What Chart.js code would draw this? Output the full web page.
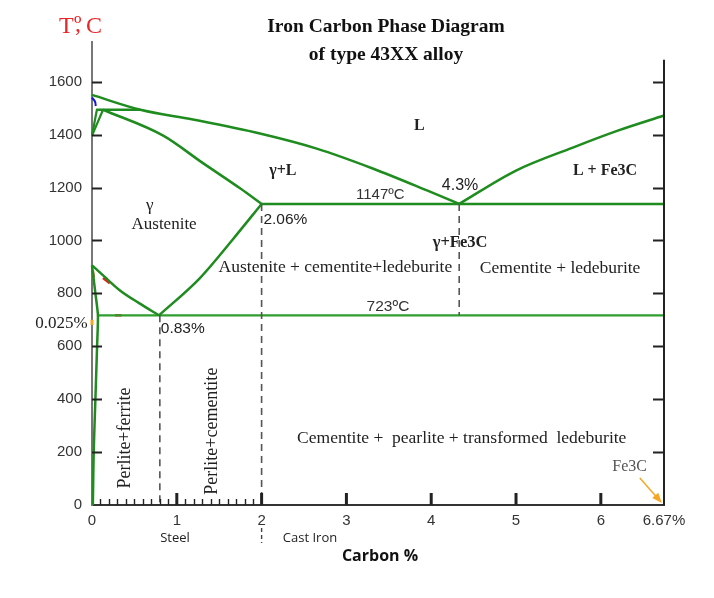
<!DOCTYPE html>
<html>
<head>
<meta charset="utf-8">
<script src="https://cdn.jsdelivr.net/npm/chart.js@4.4.1/dist/chart.umd.min.js"></script>
<style>
  html, body { margin: 0; padding: 0; background: #fff; }
</style>
</head>
<body>
<canvas id="myChart" width="714" height="598"></canvas>
<script>
// ejes
const xMax = 6.745; // borde derecho (marcado 6.67%)
const yMax = 1750;
const xTickVals = [0, 1, 2, 3, 4, 5, 6, 6.745];
const xTickLabels = ["0", "1", "2", "3", "4", "5", "6", "6.67%"];
const xMinorTicks = [0.1, 0.2, 0.3, 0.4, 0.5, 0.6, 0.7, 0.8, 0.9, 1.1, 1.2, 1.3, 1.4, 1.5, 1.6, 1.7, 1.8, 1.9];
const yTickVals = [0, 200, 400, 600, 800, 1000, 1200, 1400, 1600];

// lineas del diagrama (%C, °C)
const liquidusC = [0, 0.57, 1.19, 1.98, 2.65, 3.31, 3.95, 4.33];
const liquidusT = [1550, 1494, 1457, 1404, 1347, 1272, 1189, 1138];
const liquidus2C = [4.33, 5.0, 5.67, 6.2, 6.745];
const liquidus2T = [1138, 1264, 1351, 1415, 1472];
const solidusC = [0.13, 0.84, 1.3, 1.75, 2.0];
const solidusT = [1494, 1396, 1294, 1196, 1138];
const acmC = [0.79, 1.27, 1.65, 2.0];
const acmT = [717, 857, 1000, 1138];
const a3C = [0, 0.15, 0.33, 0.55, 0.79];
const a3T = [906, 862, 811, 764, 717];
const ferritaC = [0, 0.04, 0.07, 0.06, 0.04, 0.02, 0.01];
const ferritaT = [906, 800, 717, 600, 400, 200, 0];
const eutecticaC = [2.0, 6.745];
const eutecticaT = [1138, 1138];
const eutectoideC = [0.07, 6.745];
const eutectoideT = [717, 717];
const peritecticaC = [0.06, 0.57];
const peritecticaT = [1494, 1494];
const deltaAC = [0, 0.06];
const deltaAT = [1396, 1498];
const deltaBC = [0, 0.13];
const deltaBT = [1396, 1494];
const deltaAzulC = [0, 0.035, 0.045];
const deltaAzulT = [1540, 1525, 1508];

// verticales punteadas
const punteada1C = [0.8, 0.8];
const punteada1T = [717, 0];
const punteada2C = [2.0, 2.0];
const punteada2T = [1138, 0];
const punteada3C = [4.33, 4.33];
const punteada3T = [1138, 717];

// marcas rojas / naranja
const rojo1C = [0.01, 0.02];
const rojo1T = [885, 860];
const rojo2C = [0.13, 0.21];
const rojo2T = [858, 838];
const rojo3C = [0.27, 0.35];
const rojo3T = [717, 717];
const naranjaC = [0, 0];
const naranjaT = [700, 680];

// flecha Fe3C
const flechaC = [6.46, 6.72];
const flechaT = [102, 8];

// textos dentro del grafico
const etiquetas = [
  { txt: "L", c: 3.86, t: 1434, font: 'bold 16px "Liberation Serif"' },
  { txt: "γ+L", c: 2.25, t: 1264, font: 'bold 16px "Liberation Serif"' },
  { txt: "L + Fe3C", c: 6.05, t: 1264, font: 'bold 16px "Liberation Serif"' },
  { txt: "1147ºC", c: 3.40, t: 1174, font: '15px "Liberation Sans"', color: "#333" },
  { txt: "4.3%", c: 4.34, t: 1208, font: '16px "Liberation Sans"' },
  { txt: "γ", c: 0.68, t: 1132, font: '17px "Liberation Serif"' },
  { txt: "Austenite", c: 0.85, t: 1060, font: '17px "Liberation Serif"' },
  { txt: "2.06%", c: 2.28, t: 1079, font: '15.5px "Liberation Sans"' },
  { txt: "γ+Fe3C", c: 4.34, t: 992, font: 'bold 16.5px "Liberation Serif"' },
  { txt: "Austenite + cementite+ledeburite", c: 2.87, t: 898, font: '17.5px "Liberation Serif"' },
  { txt: "Cementite + ledeburite", c: 5.52, t: 894, font: '17.5px "Liberation Serif"' },
  { txt: "723ºC", c: 3.49, t: 751, font: '15.5px "Liberation Sans"', color: "#333" },
  { txt: "0.025%", c: -0.36, t: 687, font: '17px "Liberation Serif"' },
  { txt: "0.83%", c: 1.07, t: 668, font: '15.5px "Liberation Sans"' },
  { txt: "Perlite+ferrite", c: 0.39, t: 253, font: '18px "Liberation Serif"', rot: true },
  { txt: "Perlite+cementite", c: 1.42, t: 279, font: '18px "Liberation Serif"', rot: true },
  { txt: "Cementite +  pearlite + transformed  ledeburite", c: 4.36, t: 253, font: '17.5px "Liberation Serif"' },
  { txt: "Fe3C", c: 6.34, t: 143, font: '16px "Liberation Serif"', color: "#555" },
];

const verde = "#1e8c1e";

function serie(cs, ts) {
  return cs.map((c, i) => ({ x: c, y: ts[i] }));
}

function linea(cs, ts, color, ancho, extra) {
  return Object.assign({
    data: serie(cs, ts),
    showLine: true,
    borderColor: color,
    borderWidth: ancho,
    pointRadius: 0,
    tension: 0,
    clip: 6,
  }, extra || {});
}

const curva = { cubicInterpolationMode: "monotone" };

const datasets = [
  linea(punteada1C, punteada1T, "#555", 1.6, { borderDash: [7, 5] }),
  linea(punteada2C, punteada2T, "#555", 1.6, { borderDash: [7, 5] }),
  linea(punteada3C, punteada3T, "#555", 1.6, { borderDash: [7, 5] }),
  linea(liquidusC, liquidusT, verde, 2.5, curva),
  linea(liquidus2C, liquidus2T, verde, 2.5, curva),
  linea(solidusC, solidusT, verde, 2.5, curva),
  linea(acmC, acmT, verde, 2.5, curva),
  linea(a3C, a3T, verde, 2.5, curva),
  linea(ferritaC, ferritaT, verde, 2.5, { tension: 0.2 }),
  linea(eutecticaC, eutecticaT, verde, 2.5),
  linea(eutectoideC, eutectoideT, "#2e9e2e", 2.2),
  linea(peritecticaC, peritecticaT, verde, 2.5),
  linea(deltaAC, deltaAT, verde, 2.2),
  linea(deltaBC, deltaBT, verde, 2.2),
  linea(deltaAzulC, deltaAzulT, "#1515e0", 2, { tension: 0.4 }),
  linea(rojo1C, rojo1T, "#e52020", 2.5),
  linea(rojo2C, rojo2T, "#e52020", 2.5),
  linea(rojo3C, rojo3T, "#e52020", 2.5),
  linea(naranjaC, naranjaT, "#f5a623", 3),
];

// ticks hacia adentro, eje derecho, textos y flecha
const decoracion = {
  id: "decoracion",
  afterDraw(chart) {
    const { ctx, chartArea, scales: { x, y } } = chart;
    ctx.save();

    // eje derecho
    ctx.strokeStyle = "#222";
    ctx.lineWidth = 2;
    ctx.beginPath();
    ctx.moveTo(chartArea.right, y.getPixelForValue(1683));
    ctx.lineTo(chartArea.right, chartArea.bottom);
    ctx.stroke();

    // ticks eje Y (izq y der)
    ctx.strokeStyle = "#222";
    ctx.lineWidth = 2;
    yTickVals.slice(1).forEach((v) => {
      const py = Math.round(y.getPixelForValue(v)) + 0.5;
      ctx.beginPath();
      ctx.moveTo(chartArea.left, py);
      ctx.lineTo(chartArea.left + 10, py);
      ctx.moveTo(chartArea.right, py);
      ctx.lineTo(chartArea.right - 11, py);
      ctx.stroke();
    });

    // ticks eje X
    ctx.lineWidth = 3;
    xTickVals.slice(1, 7).forEach((v) => {
      const px = x.getPixelForValue(v);
      ctx.beginPath();
      ctx.moveTo(px, chartArea.bottom);
      ctx.lineTo(px, chartArea.bottom - 12);
      ctx.stroke();
    });
    ctx.lineWidth = 1.4;
    xMinorTicks.forEach((v) => {
      const px = Math.round(x.getPixelForValue(v)) + 0.5;
      ctx.beginPath();
      ctx.moveTo(px, chartArea.bottom);
      ctx.lineTo(px, chartArea.bottom - 6);
      ctx.stroke();
    });

    // punteada bajo el 2
    ctx.strokeStyle = "#444";
    ctx.lineWidth = 1.4;
    ctx.setLineDash([4, 3]);
    ctx.beginPath();
    ctx.moveTo(x.getPixelForValue(2), chartArea.bottom + 23);
    ctx.lineTo(x.getPixelForValue(2), chartArea.bottom + 38);
    ctx.stroke();
    ctx.setLineDash([]);

    // flecha Fe3C
    const fx1 = x.getPixelForValue(flechaC[0]), fy1 = y.getPixelForValue(flechaT[0]);
    const fx2 = x.getPixelForValue(flechaC[1]), fy2 = y.getPixelForValue(flechaT[1]);
    const ang = Math.atan2(fy2 - fy1, fx2 - fx1);
    ctx.strokeStyle = "#f5a623";
    ctx.fillStyle = "#f5a623";
    ctx.lineWidth = 1.5;
    ctx.beginPath();
    ctx.moveTo(fx1, fy1);
    ctx.lineTo(fx2 - 6 * Math.cos(ang), fy2 - 6 * Math.sin(ang));
    ctx.stroke();
    ctx.beginPath();
    ctx.moveTo(fx2, fy2);
    ctx.lineTo(fx2 - 10 * Math.cos(ang) + 4 * Math.sin(ang), fy2 - 10 * Math.sin(ang) - 4 * Math.cos(ang));
    ctx.lineTo(fx2 - 10 * Math.cos(ang) - 4 * Math.sin(ang), fy2 - 10 * Math.sin(ang) + 4 * Math.cos(ang));
    ctx.closePath();
    ctx.fill();

    // etiquetas
    ctx.textAlign = "center";
    ctx.textBaseline = "middle";
    etiquetas.forEach((e) => {
      const px = x.getPixelForValue(e.c);
      const py = y.getPixelForValue(e.t);
      ctx.font = e.font;
      ctx.fillStyle = e.color || "#222";
      if (e.rot) {
        ctx.save();
        ctx.translate(px, py);
        ctx.rotate(-Math.PI / 2);
        ctx.fillText(e.txt, 0, 0);
        ctx.restore();
      } else {
        ctx.fillText(e.txt, px, py);
      }
    });

    // titulo
    ctx.fillStyle = "#111";
    ctx.font = 'bold 19.5px "Liberation Serif"';
    ctx.fillText("Iron Carbon Phase Diagram", 386, 27);
    ctx.fillText("of type 43XX alloy", 386, 55);

    // T,ºC
    ctx.fillStyle = "#e8262a";
    ctx.font = '24px "Liberation Serif"';
    ctx.textAlign = "left";
    ctx.textBaseline = "alphabetic";
    ctx.fillText("T", 59, 33);
    ctx.fillText("º", 74, 33);
    ctx.fillText(",", 75, 31);
    ctx.fillText("C", 86, 33);

    // textos bajo el eje
    ctx.textAlign = "center";
    ctx.textBaseline = "middle";
    ctx.fillStyle = "#222";
    ctx.font = '13px "Open Sans"';
    ctx.fillText("Steel", 175, 538);
    ctx.fillText("Cast Iron", 310, 538);
    ctx.font = 'bold 16px "Open Sans"';
    ctx.fillStyle = "#111";
    ctx.fillText("Carbon %", 380, 556);

    ctx.restore();
  },
};

const config = {
  type: "scatter",
  data: { datasets: datasets },
  options: {
    responsive: false,
    animation: false,
    layout: { padding: { top: 42, right: 50, left: 0, bottom: 0 } },
    plugins: { legend: { display: false }, tooltip: { enabled: false } },
    scales: {
      x: {
        type: "linear",
        min: 0,
        max: xMax,
        afterFit: (s) => { s.height = 93; },
        afterBuildTicks: (s) => { s.ticks = xTickVals.map((v) => ({ value: v })); },
        grid: { drawOnChartArea: false, drawTicks: false },
        border: { color: "#333", width: 2 },
        ticks: {
          padding: 7,
          color: "#333",
          font: { family: "Liberation Sans", size: 15 },
          maxRotation: 0,
          autoSkip: false,
          callback: (v, i) => xTickLabels[i],
        },
      },
      y: {
        type: "linear",
        min: 0,
        max: yMax,
        afterFit: (s) => { s.width = 92; },
        afterBuildTicks: (s) => { s.ticks = yTickVals.map((v) => ({ value: v })); },
        grid: { drawOnChartArea: false, drawTicks: false },
        border: { color: "#777", width: 2 },
        ticks: {
          padding: 10,
          color: "#333",
          font: { family: "Liberation Sans", size: 15 },
          callback: (v) => String(v),
        },
      },
    },
  },
  plugins: [decoracion],
};

const myChart = new Chart(document.getElementById("myChart"), config);
</script>
</body>
</html>
